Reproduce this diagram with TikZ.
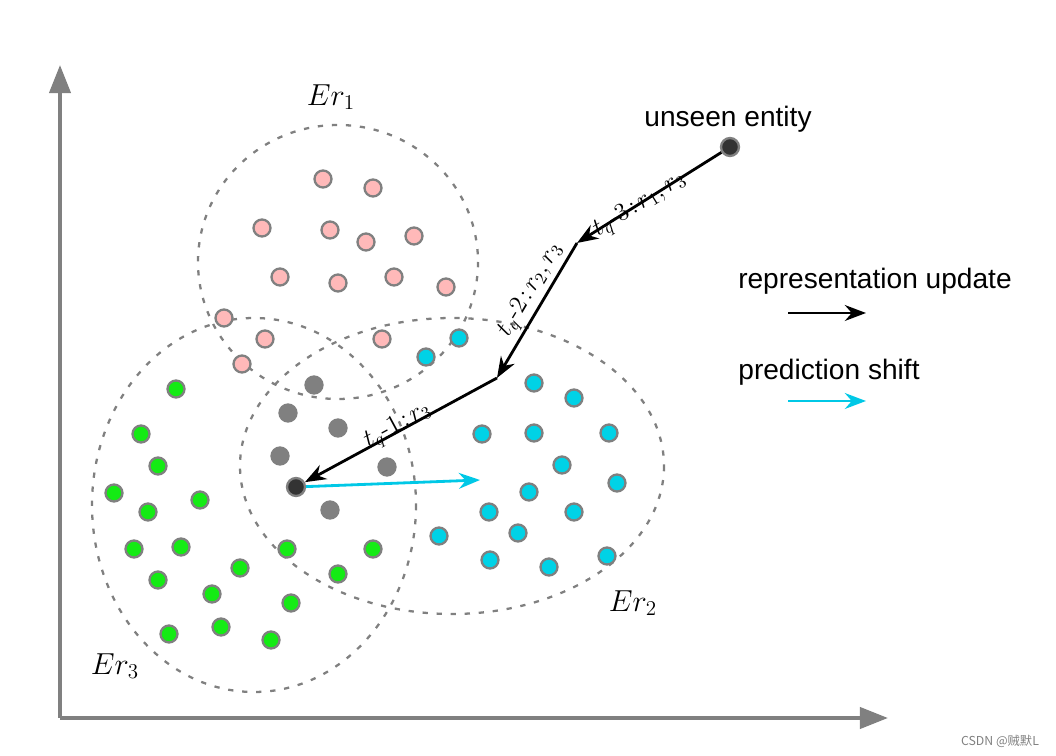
\documentclass[tikz,border=0pt]{standalone}
\usepackage{fontspec}
\setsansfont{Liberation Sans}
\newfontfamily\cjk{Noto Sans CJK SC}
\usetikzlibrary{arrows.meta}
\definecolor{cpink}{RGB}{255,185,185}
\definecolor{ccyan}{RGB}{0,210,230}
\definecolor{carrow}{RGB}{0,200,230}
\definecolor{cgreen}{RGB}{20,235,20}
\begin{document}
\begin{tikzpicture}[x=0.02cm,y=-0.02cm,
  dot/.style={circle,draw=black!50,line width=1.3pt,inner sep=0pt,minimum size=0.34cm},
  ell/.style={draw=black!50,line width=1.3pt,dash pattern=on 3pt off 5pt},
  ax/.style={draw=black!50,line width=2.2pt,-{Triangle[length=16pt,width=12pt]}},
  blk/.style={line width=1.6pt,-{Stealth[length=12pt,width=9pt]}},
  cyn/.style={line width=1.6pt,draw=carrow,-{Stealth[length=12pt,width=9pt]}},
  lab/.style={font=\Large},
  sans/.style={font=\sffamily\fontsize{16}{18}\selectfont}]
\useasboundingbox (0,0) rectangle (1056,756);
\coordinate (o) at (60,718);
\coordinate (yt) at (60,65);
\coordinate (xt) at (888,718);
\draw[ax] (o) -- (yt);
\draw[ax] (o) -- (xt);
\draw[ell] (338,262) ellipse [x radius=140,y radius=137];
\draw[ell] (452,466) ellipse [x radius=212,y radius=148];
\draw[ell] (254,505) ellipse [x radius=162,y radius=187];
\foreach \p [count=\i] in {(323,179),(373,188),(262,228),(330,230),(366,242),(414,236),(280,277),(338,283),(394,277),(446,287),(224,318),(265,339),(382,339),(242,364)}
  \node[dot,fill=cpink] (p\i) at \p {};
\foreach \p [count=\i] in {(459,338),(426,357),(534,383),(574,398),(482,434),(534,433),(609,433),(562,465),(617,483),(529,492),(489,512),(574,512),(518,533),(439,536),(490,560),(549,567),(607,556)}
  \node[dot,fill=ccyan] (c\i) at \p {};
\foreach \p [count=\i] in {(314,385),(288,413),(338,428),(280,456),(387,467),(330,510)}
  \node[dot,fill=black!50] (g\i) at \p {};
\foreach \p [count=\i] in {(176,389),(141,434),(158,466),(114,493),(148,512),(200,500),(134,549),(181,547),(158,580),(240,568),(287,549),(373,549),(212,594),(338,574),(291,603),(169,634),(221,627),(271,640)}
  \node[dot,fill=cgreen] (n\i) at \p {};
\node[dot,fill=black!80,minimum size=0.36cm] (u) at (730,147) {};
\node[dot,fill=black!80,minimum size=0.36cm] (t) at (296,487) {};
\coordinate (k1) at (577,243);
\coordinate (k2) at (497,378);
\coordinate (cs) at (480,480);
\draw[blk] (u) -- (k1);
\draw[blk] (k1) -- (k2);
\draw[blk] (k2) -- (t);
\draw[cyn] (t) -- (cs);
\node[lab,rotate=32] (l1) at (640,205) {$t_q\mbox{-}3\!:\!r_1,r_3$};
\node[lab,rotate=59.4] (l2) at (531,290) {$t_q\mbox{-}2\!:\!r_2,r_3$};
\node[lab,rotate=28.4] (l3) at (398,426) {$t_q\mbox{-}1\!:\!r_3$};
\node[font=\LARGE] (e1) at (331,97) {$Er_1$};
\node[font=\LARGE] (e2) at (633,603) {$Er_2$};
\node[font=\LARGE] (e3) at (115,666) {$Er_3$};
\node[sans] (ue) at (728,119) {unseen entity};
\node[sans] (rl) at (875,281) {representation update};
\node[sans] (pl) at (829,372) {prediction shift};
\coordinate (a1) at (788,313); \coordinate (a2) at (866,313);
\coordinate (b1) at (788,401); \coordinate (b2) at (866,401);
\draw[blk] (a1) -- (a2);
\draw[cyn] (b1) -- (b2);
\node[font=\cjk\scriptsize,text=black!50] (wm) at (1000,741) {CSDN @贼默L};
\end{tikzpicture}
\end{document}
